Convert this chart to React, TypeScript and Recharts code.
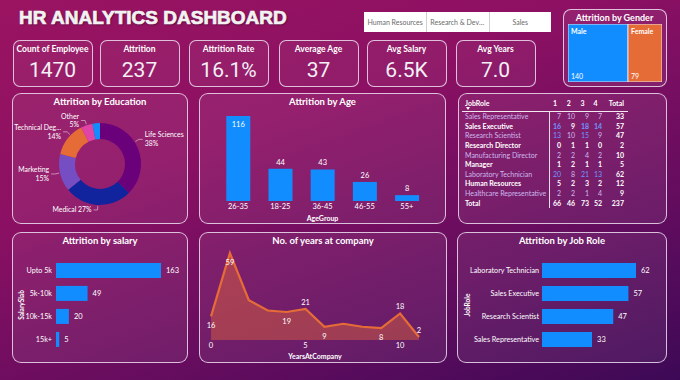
import React from 'react';
import { BarChart, Bar, XAxis, YAxis, LabelList, PieChart, Pie, Cell, AreaChart, Area, Treemap } from 'recharts';

// ---------- data ----------
const kpiLabels = ['Count of Employee', 'Attrition', 'Attrition Rate', 'Average Age', 'Avg Salary', 'Avg Years'];
const kpiValues = ['1470', '237', '16.1%', '37', '6.5K', '7.0'];

const departments = ['Human Resources', 'Research & Development', 'Sales'];

const genders = ['Male', 'Female'];
const genderAttrition = [140, 79];

const educationFields = ['Life Sciences', 'Medical', 'Marketing', 'Technical Degree', 'Other', 'Human Resources'];
const educationAttrition = [89, 63, 35, 32, 11, 7];

const ageGroups = ['26-35', '18-25', '36-45', '46-55', '55+'];
const ageAttrition = [116, 44, 43, 26, 8];

const tableRoles = [
  'Sales Representative', 'Sales Executive', 'Research Scientist', 'Research Director',
  'Manufacturing Director', 'Manager', 'Laboratory Technician', 'Human Resources', 'Healthcare Representative',
];
const satisfactionLevels = ['1', '2', '3', '4'];
const roleBySatisfaction = [
  [7, 10, 9, 7],
  [16, 9, 18, 14],
  [13, 10, 15, 9],
  [0, 1, 1, 0],
  [2, 2, 4, 2],
  [1, 2, 1, 1],
  [20, 8, 21, 13],
  [5, 2, 3, 2],
  [2, 2, 1, 4],
];

const salarySlabs = ['Upto 5k', '5k-10k', '10k-15k', '15k+'];
const salaryAttrition = [163, 49, 20, 5];

const yearsAtCompany = [0, 1, 2, 3, 4, 5, 6, 7, 8, 9, 10, 11];
const yearsAttrition = [16, 59, 27, 20, 19, 21, 9, 11, 9, 8, 18, 2];
const labelledYears = [0, 1, 4, 5, 6, 9, 10, 11];
const yearTicks = [0, 5, 10];

const topRoles = ['Laboratory Technician', 'Sales Executive', 'Research Scientist', 'Sales Representative'];
const topRoleAttrition = [62, 57, 47, 33];

// ---------- styling ----------
const FONT = "Lato, 'Open Sans', sans-serif";
const BLUE = '#118DFF';
const eduColors = ['#6B007B', '#12239E', '#744EC2', '#E66C37', '#E044A7', '#118DFF'];
const genderColors = ['#118DFF', '#E66C37'];
const BORDER = '1.5px solid rgba(236,222,240,0.85)';

const genderData = genders.map((g, i) => ({ name: g, value: genderAttrition[i] }));
const eduData = educationFields.map((f, i) => ({ name: f, value: educationAttrition[i] }));
const ageData = ageGroups.map((g, i) => ({ name: g, value: ageAttrition[i] }));
const salaryData = salarySlabs.map((s, i) => ({ name: s, value: salaryAttrition[i] }));
const yearsData = yearsAtCompany.map((y, i) => ({ year: y, value: yearsAttrition[i] }));
const roleData = topRoles.map((r, i) => ({ name: r, value: topRoleAttrition[i] }));

const truncate = (s: string) => (s.length > 13 ? s.slice(0, 13) + '...' : s);

let measureCtx: any = null;
const measure = (t: string, fs: number) => {
  try {
    if (!measureCtx) measureCtx = document.createElement('canvas').getContext('2d');
    measureCtx.font = `${fs}px Lato`;
    return measureCtx.measureText(t).width;
  } catch (e) {
    return t.length * fs * 0.42;
  }
};

const Panel = ({ x, y, w, h, title, children }: any) => (
  <div style={{ position: 'absolute', left: x, top: y, width: w, height: h }}>
    <div style={{ position: 'absolute', left: 0, top: 0, width: w, height: h, border: BORDER, borderRadius: 9, background: 'rgba(255,255,255,0.07)', boxSizing: 'border-box' }} />
    {title && (
      <div style={{ position: 'absolute', left: 0, top: 3, width: w, textAlign: 'center', fontSize: 9.5, fontWeight: 700, lineHeight: '12px', color: '#fff' }}>{title}</div>
    )}
    <div style={{ position: 'absolute', left: 0, top: 0 }}>{children}</div>
  </div>
);

const PIE_W = 176;
const LABEL_FS = 6.9;
const renderEduLabel = (props: any) => {
  const { cx, cy, midAngle, outerRadius, percent } = props;
  const name = props.name ?? props.payload?.name;
  if (percent < 0.04) return null;
  const rad = Math.PI / 180;
  const label = truncate(name);
  const estW = measure(label, LABEL_FS);
  let ang = midAngle;
  // slide the anchor towards the top while the label would leave the chart
  for (let k = 0; k < 90; k++) {
    const c0 = Math.cos(-ang * rad);
    const tx0 = cx + (outerRadius + 5) * c0 + (c0 >= 0 ? 6 : -6);
    const fits = c0 >= 0 ? tx0 + estW <= PIE_W - 4 : tx0 - estW >= 2;
    if (fits) break;
    ang += c0 >= 0 ? 1 : -1;
  }
  const c = Math.cos(-ang * rad);
  const s = Math.sin(-ang * rad);
  const sx = cx + (outerRadius + 1) * c;
  const sy = cy + (outerRadius + 1) * s;
  const mx = cx + (outerRadius + 5) * c;
  const my = cy + (outerRadius + 5) * s;
  const right = c >= 0;
  const ex = mx + (right ? 4 : -4);
  const tx = ex + (right ? 2 : -2);
  const anchor = right ? 'start' : 'end';
  const pct = `${Math.round(percent * 100)}%`;
  const single = s > 0.9;
  return (
    <g>
      <polyline points={`${sx},${sy} ${mx},${my} ${ex},${my}`} stroke="rgba(255,255,255,0.6)" fill="none" strokeWidth={0.8} />
      {single ? (
        <text x={tx} y={my + 2.4} textAnchor={anchor} fill="#fff" fontSize={LABEL_FS}>{`${label} ${pct}`}</text>
      ) : (
        <text textAnchor={anchor} fill="#fff" fontSize={LABEL_FS}>
          <tspan x={tx} y={my - 2}>{label}</tspan>
          <tspan x={tx} y={my + 6.8}>{pct}</tspan>
        </text>
      )}
    </g>
  );
};

const ageMax = Math.max(...ageAttrition);
const renderAgeLabel = (props: any) => {
  const x = props.x ?? props.viewBox?.x;
  const y = props.y ?? props.viewBox?.y;
  const width = props.width ?? props.viewBox?.width;
  const { value } = props;
  const inside = value === ageMax;
  return (
    <text x={x + width / 2} y={inside ? y + 11 : y - 4} textAnchor="middle" fill="#fff" fontSize={7.5}>{value}</text>
  );
};

const yMax = Math.max(...yearsAttrition);
const renderYearLabel = (props: any) => {
  const x = props.x ?? props.viewBox?.x;
  const y = props.y ?? props.viewBox?.y;
  const { value, index } = props;
  if (!labelledYears.includes(yearsAtCompany[index])) return null;
  const prev = index > 0 ? yearsAttrition[index - 1] : -Infinity;
  const next = index < yearsAttrition.length - 1 ? yearsAttrition[index + 1] : -Infinity;
  const localMax = value > prev && value > next && value !== yMax;
  const above = localMax || value < yMax * 0.1;
  return (
    <text x={x} y={above ? y - 4 : y + 12} textAnchor="middle" fill="#fff" fontSize={7.5}>{value}</text>
  );
};

const CatTick = (props: any) => {
  const { x, y, payload } = props;
  return (
    <text x={x} y={y} dy={2.6} textAnchor="end" fill="#fff" fontSize={7.2} fontFamily={FONT}>{payload.value}</text>
  );
};

const GenderCell = (props: any) => {
  const { x, y, width, height, index, name, value, depth } = props;
  if (depth !== 1) return <g />;
  return (
    <g>
      <rect x={x} y={y} width={width} height={height} fill={genderColors[index % 2]} stroke="#e6dcea" strokeWidth={1} />
      <text x={x + 3} y={y + 10} fill="#fff" fontSize={7} fontWeight={700}>{name}</text>
      <text x={x + 3} y={y + height - 3} fill="#fff" fontSize={7}>{value}</text>
    </g>
  );
};

const kpiX = [13, 100, 189, 279, 367, 456];

export default function App() {
  return (
    <div style={{
      position: 'absolute', left: 0, top: 0, width: 680, height: 380, overflow: 'hidden', fontFamily: FONT, color: '#fff',
      background: 'linear-gradient(160deg, #9a1461 0%, #8c1063 35%, #620c5e 72%, #3d0956 100%)',
    }}>
      {/* Title */}
      <div style={{ position: 'absolute', left: 19, top: 6, fontFamily: "'Liberation Sans', Arial, sans-serif", fontWeight: 700, fontSize: 19, lineHeight: '24px', color: '#f2f2f2', WebkitTextStroke: '0.7px #f2f2f2', textShadow: '1px 1px 2px rgba(0,0,0,0.45)' }}>
        HR ANALYTICS DASHBOARD
      </div>

      {/* Slicer */}
      <div style={{ position: 'absolute', left: 364, top: 12, width: 187, height: 20, background: '#fff', display: 'flex' }}>
        {departments.map((d, i) => (
          <div key={d} style={{ width: 62.3, height: 20, boxSizing: 'border-box', borderLeft: i ? '1px solid #d0d0d0' : 'none', fontSize: 7, lineHeight: '20px', color: '#6a6a6a', textAlign: 'center', whiteSpace: 'nowrap', overflow: 'hidden', textOverflow: 'ellipsis', padding: '0 3px' }}>{d}</div>
        ))}
      </div>

      {/* KPI cards */}
      {kpiLabels.map((l, i) => (
        <div key={l} style={{ position: 'absolute', left: kpiX[i], top: 40, width: 80, height: 47, border: BORDER, borderRadius: 7, boxSizing: 'border-box', background: 'rgba(255,255,255,0.05)' }}>
          <div style={{ position: 'absolute', left: 0, top: 3, width: 77, textAlign: 'center', fontSize: 8.5, fontWeight: 700, lineHeight: '10px' }}>{l}</div>
          <div style={{ position: 'absolute', left: 0, top: 17, width: 77, textAlign: 'center', fontSize: 21, fontFamily: 'Roboto, sans-serif', lineHeight: '24px', color: '#f4f0f6' }}>{kpiValues[i]}</div>
        </div>
      ))}

      {/* Gender treemap */}
      <div style={{ position: 'absolute', left: 563, top: 9, width: 104, height: 78, border: BORDER, borderRadius: 8, boxSizing: 'border-box', background: 'rgba(255,255,255,0.07)' }}>
        <div style={{ position: 'absolute', left: 0, top: 2, width: 101, textAlign: 'center', fontSize: 9, fontWeight: 700, lineHeight: '11px' }}>Attrition by Gender</div>
      </div>
      <div style={{ position: 'absolute', left: 568, top: 24 }}>
        <Treemap width={94} height={58} data={genderData} dataKey="value" nameKey="name" isAnimationActive={false} content={<GenderCell />} />
      </div>

      {/* Education donut */}
      <Panel x={12} y={93} w={176} h={131} title="Attrition by Education">
        <PieChart width={PIE_W} height={131} margin={{ top: 0, right: 0, bottom: 0, left: 0 }}>
          <Pie data={eduData} dataKey="value" nameKey="name" cx={88} cy={71} innerRadius={25} outerRadius={41} startAngle={90} endAngle={-270} stroke="none" isAnimationActive={false} label={renderEduLabel} labelLine={false}>
            {eduData.map((d, i) => <Cell key={d.name} fill={eduColors[i]} />)}
          </Pie>
        </PieChart>
      </Panel>

      {/* Age bars */}
      <Panel x={199} y={93} w={247} h={131} title="Attrition by Age">
        <BarChart width={247} height={131} data={ageData} margin={{ top: 23, right: 18, left: 18, bottom: 0 }} barCategoryGap="22%">
          <XAxis dataKey="name" height={23} axisLine={false} tickLine={false} tickSize={1} tickMargin={2} tick={{ fill: '#fff', fontSize: 7.5 }} interval={0}
            label={{ value: 'AgeGroup', position: 'insideBottom', offset: 3, fill: '#fff', fontSize: 7, fontWeight: 700 }} />
          <YAxis hide domain={[0, 'dataMax']} />
          <Bar dataKey="value" fill={BLUE} isAnimationActive={false}>
            <LabelList dataKey="value" content={renderAgeLabel} />
          </Bar>
        </BarChart>
      </Panel>

      {/* Job role matrix */}
      <Panel x={458} y={93} w={209} h={131}>
        <div style={{ position: 'absolute', left: 4, top: 3, width: 166, fontSize: 7 }}>
          <div style={{ display: 'flex', height: 16, borderBottom: '1.2px solid rgba(255,255,255,0.9)', boxSizing: 'border-box', fontWeight: 700, lineHeight: '14px', position: 'relative' }}>
            <div style={{ width: 88, paddingLeft: 3 }}>JobRole</div>
            {satisfactionLevels.map((s, i) => (
              <div key={s} style={{ width: [11, 14, 14, 13][i], textAlign: 'right', paddingRight: 5, boxSizing: 'border-box' }}>{s}</div>
            ))}
            <div style={{ width: 26, textAlign: 'right', paddingRight: 4, boxSizing: 'border-box' }}>Total</div>
            <div style={{ position: 'absolute', left: 4, top: 11, width: 0, height: 0, borderLeft: '2.5px solid transparent', borderRight: '2.5px solid transparent', borderTop: '3px solid #fff' }} />
          </div>
          {[...tableRoles, 'Total'].map((r, ri) => {
            const isTotal = ri === tableRoles.length;
            const vals = isTotal
              ? satisfactionLevels.map((_, c) => roleBySatisfaction.reduce((a, row) => a + row[c], 0))
              : roleBySatisfaction[ri];
            const total = vals.reduce((a, b) => a + b, 0);
            const dim = !isTotal && ri % 2 === 0;
            const baseColor = dim ? '#cdb9ee' : '#ffffff';
            const weight = dim ? 400 : 700;
            return (
              <div key={r} style={{ display: 'flex', height: 9.65, lineHeight: '9.65px', color: baseColor, fontWeight: weight }}>
                <div style={{ width: 88, paddingLeft: 3, boxSizing: 'border-box', borderRight: '1px solid rgba(255,255,255,0.85)', whiteSpace: 'nowrap', overflow: 'hidden' }}>{r}</div>
                {vals.map((v, c) => (
                  <div key={c} style={{ width: [11, 14, 14, 13][c], textAlign: 'right', boxSizing: 'border-box', color: !isTotal && v >= 13 ? '#6f95ff' : baseColor }}>{v}</div>
                ))}
                <div style={{ width: 26, textAlign: 'right', paddingRight: 4, boxSizing: 'border-box', fontWeight: 700, color: '#fff' }}>{total}</div>
              </div>
            );
          })}
        </div>
      </Panel>

      {/* Salary bars */}
      <Panel x={12} y={232} w={176} h={131} title="Attrition by salary">
        <BarChart width={176} height={131} data={salaryData} layout="vertical" margin={{ top: 27, right: 27, left: 0, bottom: 12 }} barCategoryGap="17%">
          <XAxis type="number" hide domain={[0, 'dataMax']} />
          <YAxis type="category" dataKey="name" width={44} axisLine={false} tickLine={false} tickSize={2} tickMargin={2} tick={<CatTick />} interval={0} />
          <Bar dataKey="value" fill={BLUE} isAnimationActive={false}>
            <LabelList dataKey="value" position="right" offset={5} fill="#fff" fontSize={7.5} />
          </Bar>
        </BarChart>
        <div style={{ position: 'absolute', left: 3, top: 67, width: 12, height: 12, fontSize: 6.5, fontWeight: 700 }}>
          <div style={{ position: 'absolute', left: 6, top: 6, transform: 'translate(-50%,-50%) rotate(-90deg)', whiteSpace: 'nowrap' }}>SalarySlab</div>
        </div>
      </Panel>

      {/* Years area */}
      <Panel x={199} y={232} w={248} h={131} title="No. of years at company">
        <AreaChart width={248} height={131} data={yearsData} margin={{ top: 21, right: 28, left: 12, bottom: 0 }}>
          <XAxis dataKey="year" type="number" domain={[0, 11]} ticks={yearTicks} height={23} axisLine={false} tickLine={false} tickSize={1} tickMargin={2} tick={{ fill: '#fff', fontSize: 7.5 }}
            label={{ value: 'YearsAtCompany', position: 'insideBottom', offset: 4, fill: '#fff', fontSize: 7, fontWeight: 700 }} />
          <YAxis hide domain={[0, 'dataMax']} />
          <Area type="linear" dataKey="value" stroke="#E66C37" strokeWidth={2.2} fill="#E66C37" fillOpacity={0.42} dot={false} activeDot={false} isAnimationActive={false}>
            <LabelList dataKey="value" content={renderYearLabel} />
          </Area>
        </AreaChart>
      </Panel>

      {/* Job role bars */}
      <Panel x={457} y={232} w={210} h={131} title="Attrition by Job Role">
        <BarChart width={210} height={131} data={roleData} layout="vertical" margin={{ top: 27, right: 31, left: 0, bottom: 12 }} barCategoryGap="17%">
          <XAxis type="number" hide domain={[0, 'dataMax']} />
          <YAxis type="category" dataKey="name" width={85} axisLine={false} tickLine={false} tickSize={1} tickMargin={2} tick={<CatTick />} interval={0} />
          <Bar dataKey="value" fill={BLUE} isAnimationActive={false}>
            <LabelList dataKey="value" position="right" offset={5} fill="#fff" fontSize={7.5} />
          </Bar>
        </BarChart>
        <div style={{ position: 'absolute', left: 4, top: 67, width: 12, height: 12, fontSize: 6.5, fontWeight: 700 }}>
          <div style={{ position: 'absolute', left: 6, top: 6, transform: 'translate(-50%,-50%) rotate(-90deg)', whiteSpace: 'nowrap' }}>JobRole</div>
        </div>
      </Panel>
    </div>
  );
}
